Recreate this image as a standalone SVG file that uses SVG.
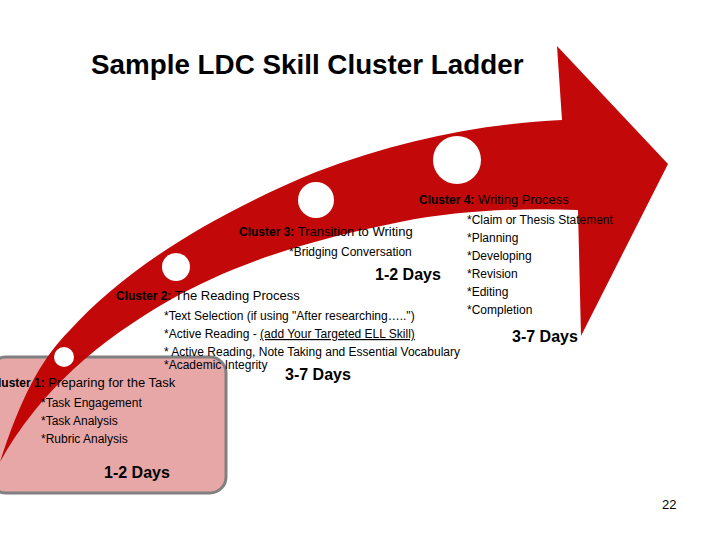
<svg xmlns="http://www.w3.org/2000/svg" width="720" height="540" viewBox="0 0 720 540">
<style>
text{font-family:"Liberation Sans",Arial,sans-serif;fill:#000}
.b{font-weight:bold;font-size:12px}
.n{font-size:13px}
.s{font-size:12px}
.d{font-weight:bold;font-size:16px}
</style>
<rect width="720" height="540" fill="#fff"/>
<g id="c1box">
<rect x="-10" y="357" width="236" height="136" rx="16" fill="#e8a7a7" stroke="#808080" stroke-width="3"/>
</g>
<g id="arrow">
<path d="M0,462 C20,400 40,360 70,330 C120,275 200,220 316,172 C400,140 480,124 562,120 L557,46 L668,164 L581,336 L578,210 C520,208 460,210 400,222 C320,238 240,260 170,300 C100,340 40,390 0,462 Z" fill="#c00000" fill-opacity="0.97"/>
<circle cx="64" cy="357" r="10" fill="#fff"/>
<circle cx="176" cy="267" r="14" fill="#fff"/>
<circle cx="316" cy="200" r="18" fill="#fff"/>
<circle cx="457" cy="160" r="24" fill="#fff"/>
</g>
<text x="91" y="74" font-size="27.8" font-weight="bold">Sample LDC Skill Cluster Ladder</text>
<g id="c1">
<text x="-2" y="387" class="n"><tspan font-weight="bold" font-size="12">luster 1:</tspan>  Preparing for the Task</text>
<text x="41" y="407" class="s">*Task Engagement</text>
<text x="41" y="425" class="s">*Task Analysis</text>
<text x="41" y="443" class="s">*Rubric Analysis</text>
<text x="104" y="478" class="d">1-2 Days</text>
</g>
<g id="c2">
<text x="116" y="300" class="n"><tspan font-weight="bold" font-size="12">Cluster 2:</tspan>  The Reading Process</text>
<text x="164" y="320" class="s">*Text Selection  (if using "After researching…..")</text>
<text x="164" y="338" class="s">*Active Reading  - <tspan text-decoration="underline">(add Your Targeted ELL Skill)</tspan></text>
<text x="164" y="356" class="s">* Active Reading, Note Taking and Essential Vocabulary</text>
<text x="164" y="369" class="s">*Academic Integrity</text>
<text x="285" y="380" class="d">3-7 Days</text>
</g>
<g id="c3">
<text x="239" y="236" class="n"><tspan font-weight="bold" font-size="12">Cluster 3:</tspan>  Transition to Writing</text>
<text x="289" y="256" class="s">*Bridging Conversation</text>
<text x="375" y="280" class="d">1-2 Days</text>
</g>
<g id="c4">
<text x="419" y="204" class="n"><tspan font-weight="bold" font-size="12">Cluster 4:</tspan>  Writing Process</text>
<text x="467" y="224" class="s">*Claim or Thesis Statement</text>
<text x="467" y="242" class="s">*Planning</text>
<text x="467" y="260" class="s">*Developing</text>
<text x="467" y="278" class="s">*Revision</text>
<text x="467" y="296" class="s">*Editing</text>
<text x="467" y="314" class="s">*Completion</text>
<text x="512" y="342" class="d">3-7 Days</text>
</g>
<text x="662" y="509" font-size="13">22</text>
</svg>
